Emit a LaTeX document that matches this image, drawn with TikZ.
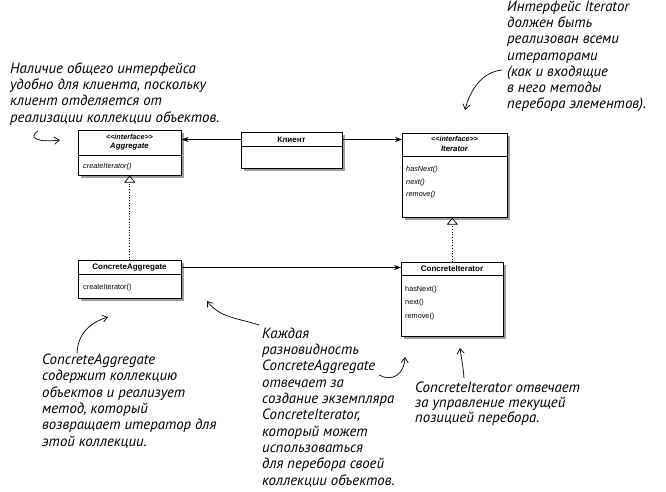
\documentclass[tikz,border=0pt]{standalone}
\usepackage{fontspec}
\setmainfont{Liberation Sans}
\newfontfamily\handfont{PT Sans}
\usetikzlibrary{arrows.meta,shadows}

\tikzset{
  classbox/.style={draw, line width=0.6pt, fill=white, inner sep=0pt, anchor=north west,
    drop shadow={shadow xshift=2.5pt, shadow yshift=-2.5pt, fill=black!38, opacity=1}},
  stereo/.style={font=\fontsize{7.2}{8}\selectfont\bfseries\itshape, inner sep=0pt},
  classname/.style={font=\fontsize{8}{9}\selectfont\bfseries, inner sep=0pt},
  ifacename/.style={font=\fontsize{7.8}{9}\selectfont\bfseries\itshape, inner sep=0pt},
  method/.style={font=\fontsize{7.3}{8}\selectfont, inner sep=0pt, anchor=base west},
  ifacemethod/.style={font=\fontsize{7.3}{8}\selectfont\itshape, inner sep=0pt, anchor=base west},
  note/.style={font=\handfont\itshape\fontsize{14.8}{16.3}\selectfont, align=left, inner sep=0pt, anchor=base west},
  shortnote/.style={font=\handfont\itshape\fontsize{14.8}{15}\selectfont, align=left, inner sep=0pt, anchor=base west},
  pointer/.style={line width=0.7pt, -{Straight Barb[length=5pt,width=7pt]}},
  assoc/.style={line width=0.8pt, -{Stealth[length=7pt,width=5pt]}},
  realize/.style={dotted, line width=0.7pt, -{Triangle[open,length=7pt,width=11pt,line width=0.7pt]}},
}

\begin{document}
\begin{tikzpicture}[x=1pt,y=1pt,yscale=-1,xscale=1]
\useasboundingbox (0,0) rectangle (666,492);

%Shape: Rectangle [id:agg]
\node (agg) [classbox, minimum width=103pt, minimum height=45pt] at (78,130) {};
\draw [line width=0.6pt] (agg.west |- 0,155) -- (agg.east |- 0,155) ;
\node (aggstereo) [stereo] at (129.5,136.5) {\textless{}\textless{}interface\textgreater{}\textgreater{}};
\node (aggname) [ifacename] at (129.5,146.5) {Aggregate};
\node (aggm1) [ifacemethod] at (83,168) {createIterator()};

%Shape: Rectangle [id:client]
\node (client) [classbox, minimum width=101pt, minimum height=36pt] at (241,132) {};
\draw [line width=0.6pt] (client.west |- 0,146) -- (client.east |- 0,146) ;
\node (clientname) [classname] at (291.5,139.5) {Клиент};

%Shape: Rectangle [id:iter]
\node (iter) [classbox, minimum width=105pt, minimum height=84pt] at (402,133) {};
\draw [line width=0.6pt] (iter.west |- 0,156) -- (iter.east |- 0,156) ;
\node (iterstereo) [stereo] at (454.5,139) {\textless{}\textless{}interface\textgreater{}\textgreater{}};
\node (itername) [ifacename] at (454.5,149) {Iterator};
\node (iterm1) [ifacemethod] at (406,171) {hasNext()};
\node (iterm2) [ifacemethod] at (406,184) {next()};
\node (iterm3) [ifacemethod] at (406,196) {remove()};

%Shape: Rectangle [id:cagg]
\node (cagg) [classbox, minimum width=103pt, minimum height=38pt] at (78,260) {};
\draw [line width=0.6pt] (cagg.west |- 0,274) -- (cagg.east |- 0,274) ;
\node (caggname) [classname] at (129.5,267.5) {ConcreteAggregate};
\node (caggm1) [method] at (83,289.5) {createIterator()};

%Shape: Rectangle [id:citer]
\node (citer) [classbox, minimum width=102pt, minimum height=74pt] at (401,262) {};
\draw [line width=0.6pt] (citer.west |- 0,275) -- (citer.east |- 0,275) ;
\node (citername) [classname] at (452,269) {ConcreteIterator};
\node (citerm1) [method] at (405,291) {hasNext()};
\node (citerm2) [method] at (405,304.5) {next()};
\node (citerm3) [method] at (405,318) {remove()};

%Straight Lines
\draw [assoc] (client.west |- clientname) -- (agg.east |- clientname) ;
\draw [assoc] (client.east |- clientname) -- (iter.west |- clientname) ;
\draw [assoc] (cagg.east |- caggname) -- (citer.west |- caggname) ;
\draw [realize] (cagg.north) -- (agg.south) ;
\draw [realize] (citer.north) -- (citer.north |- iter.south) ;

%Notes (placed by the baseline of their last line)
\node (notecommon) [note] at (10,122) {Наличие общего интерфейса\\удобно для клиента, поскольку\\клиент отделяется от\\реализации коллекции объектов.};
\node (noteiter) [note] at (507,109) {Интерфейс Iterator\\должен быть\\реализован всеми\\итераторами\\(как и входящие\\в него методы\\перебора элементов).};
\node (notecagg) [note] at (42,446) {ConcreteAggregate\\содержит коллекцию\\объектов и реализует\\метод, который\\возвращает итератор для\\этой коллекции.};
\node (noteeach) [note] at (262,485) {Каждая\\разновидность\\ConcreteAggregate\\отвечает за\\создание экземпляра\\ConcreteIterator,\\который может\\использоваться\\для перебора своей\\коллекции объектов.};
\node (notepos) [shortnote] at (415,422) {ConcreteIterator отвечает\\за управление текущей\\позицией перебора.};

%Curve Lines
\coordinate (hooktail) at (38,131) ;
\coordinate (hooktip) at (60,140) ;
\draw [pointer] (hooktail) .. controls (28,137) and (36,143) .. (hooktip) ;
\coordinate (itertail) at (502,70) ;
\coordinate (itertip) at (465,110) ;
\draw [pointer] (itertail) .. controls (482,72) and (470,90) .. (itertip) ;
\coordinate (caggtail) at (77,353) ;
\coordinate (caggtip) at (108,317) ;
\draw [pointer] (caggtail) .. controls (78,332) and (92,322) .. (caggtip) ;
\coordinate (eachtail) at (259,325) ;
\coordinate (eachtip) at (207,301) ;
\draw [pointer] (eachtail) .. controls (238,318) and (220,318) .. (eachtip) ;
\coordinate (createtail) at (379,375) ;
\coordinate (createtip) at (405,357) ;
\draw [pointer] (createtail) .. controls (392,382) and (404,375) .. (createtip) ;
\coordinate (postail) at (464,378) ;
\coordinate (postip) at (460,348) ;
\draw [pointer] (postail) .. controls (463,365) and (461,356) .. (postip) ;

\end{tikzpicture}
\end{document}
